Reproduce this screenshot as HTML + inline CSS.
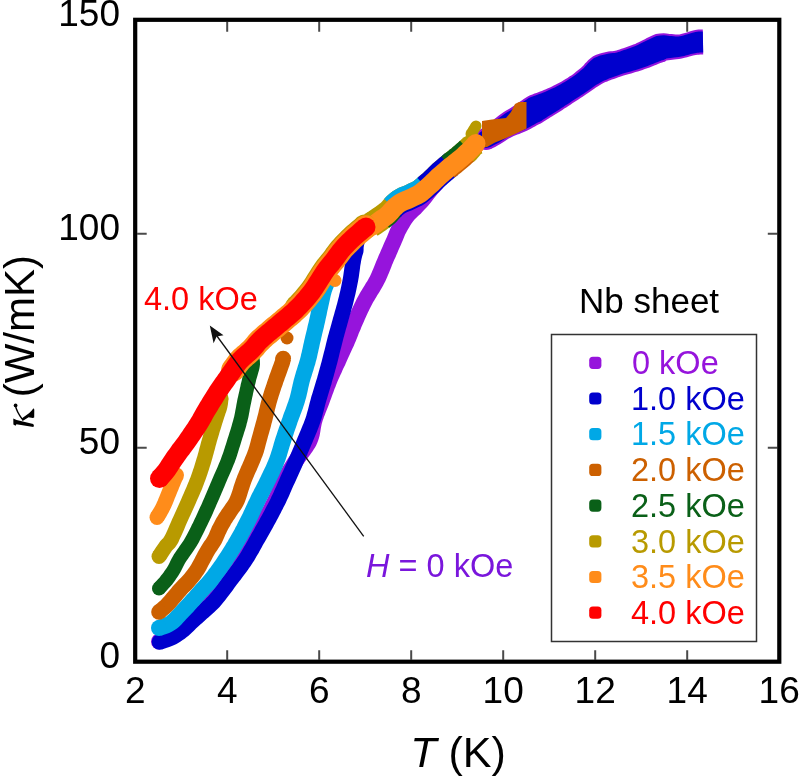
<!DOCTYPE html>
<html><head><meta charset="utf-8"><style>
html,body{margin:0;padding:0;background:#fff;}
svg{display:block;filter:blur(0.45px);}
text{font-family:"Liberation Sans",sans-serif;}
</style></head><body>
<svg width="800" height="777" viewBox="0 0 800 777">
<rect width="800" height="777" fill="#fff"/>
<path d="M162.3,648.8 L163.5,648.2 L165.3,647.4 L167.5,646.4 L169.9,645.3 L172.3,644.0 L174.2,643.0 L176.1,641.9 L178.1,640.7 L180.1,639.4 L182.3,637.9 L184.4,636.3 L186.2,634.9 L187.8,633.4 L189.4,631.9 L190.9,630.4 L192.4,628.9 L193.9,627.5 L195.3,626.2 L196.7,624.9 L198.2,623.5 L199.8,622.1 L201.4,620.7 L203.0,619.2 L204.7,617.8 L206.3,616.4 L207.9,614.9 L209.3,613.6 L210.7,612.4 L212.1,611.2 L213.6,609.8 L215.2,608.2 L217.0,606.4 L218.9,604.2 L220.1,602.8 L221.3,601.2 L222.6,599.6 L223.9,598.0 L225.2,596.2 L226.6,594.4 L227.9,592.6 L229.3,590.8 L230.6,589.0 L232.0,587.2 L233.2,585.5 L234.5,583.8 L235.7,582.2 L237.0,580.5 L238.3,578.8 L239.5,577.2 L240.8,575.5 L242.1,573.8 L243.3,572.1 L244.6,570.4 L245.8,568.6 L247.1,566.9 L248.3,565.2 L249.4,563.4 L250.7,561.5 L251.9,559.5 L253.0,557.6 L254.1,555.8 L255.2,553.9 L256.3,552.0 L257.3,550.2 L258.3,548.3 L259.3,546.5 L260.3,544.7 L261.4,543.0 L262.4,541.1 L263.4,539.3 L264.5,537.5 L265.5,535.7 L266.5,533.8 L267.6,532.0 L268.6,530.2 L269.6,528.3 L270.6,526.5 L271.6,524.6 L272.6,522.8 L273.6,521.0 L274.6,519.1 L275.6,517.3 L276.6,515.5 L277.5,513.6 L278.5,511.8 L279.5,509.9 L280.4,508.1 L281.4,506.2 L282.3,504.4 L283.2,502.5 L284.2,500.3 L285.2,498.2 L286.1,496.1 L286.9,494.1 L287.8,492.1 L288.6,490.1 L289.5,488.2 L290.3,486.3 L291.2,484.5 L292.1,482.7 L293.0,481.1 L293.9,479.4 L294.8,477.8 L295.8,476.2 L296.8,474.5 L297.8,472.9 L298.8,471.2 L299.9,469.5 L301.0,467.8 L302.1,466.1 L303.2,464.3 L304.2,462.8 L305.2,461.3 L306.4,459.8 L307.6,458.1 L308.8,456.5 L310.1,454.8 L311.3,453.0 L312.6,451.2 L313.8,449.3 L315.0,447.4 L316.1,445.4 L317.1,443.2 L318.1,440.7 L318.9,438.2 L319.6,435.8 L320.0,433.5 L320.4,431.3 L320.7,429.3 L321.0,427.4 L321.4,425.6 L321.7,423.9 L322.2,422.3 L322.7,420.5 L323.4,418.7 L324.0,416.8 L324.8,414.9 L325.5,412.9 L326.3,410.9 L327.1,409.0 L327.9,406.9 L328.7,404.9 L329.5,402.8 L330.2,400.8 L331.0,398.7 L331.7,396.7 L332.4,394.7 L333.2,392.7 L333.9,390.8 L334.6,388.8 L335.4,386.9 L336.1,385.0 L336.9,383.1 L337.7,381.1 L338.6,379.1 L339.5,377.0 L340.5,374.8 L341.5,372.7 L342.4,370.6 L343.3,368.6 L344.2,366.7 L345.1,364.9 L345.8,363.3 L347.0,360.6 L347.9,358.6 L348.7,356.8 L349.5,355.1 L350.3,353.3 L351.1,351.5 L351.9,349.8 L352.7,348.0 L353.7,345.9 L354.9,343.1 L355.6,341.5 L356.3,339.7 L357.1,337.7 L357.9,335.7 L358.7,333.6 L359.6,331.5 L360.5,329.4 L361.3,327.3 L362.2,325.2 L363.1,323.2 L363.9,321.4 L364.7,319.6 L365.5,317.8 L366.3,316.1 L367.1,314.3 L367.9,312.5 L368.8,310.7 L369.6,309.0 L370.5,307.2 L371.4,305.5 L372.3,303.8 L373.2,302.1 L374.2,300.4 L375.2,298.7 L376.3,296.9 L377.4,295.1 L378.6,293.3 L379.7,291.4 L380.8,289.5 L382.0,287.6 L383.1,285.6 L384.1,283.6 L385.2,281.4 L386.2,279.3 L387.1,277.2 L388.0,275.1 L388.9,273.0 L389.7,271.0 L390.5,269.0 L391.3,267.0 L392.0,265.1 L392.9,263.1 L393.7,261.1 L394.6,259.1 L395.6,256.9 L396.5,254.8 L397.4,252.7 L398.3,250.6 L399.2,248.6 L400.1,246.6 L400.9,244.8 L401.6,243.1 L402.8,240.3 L403.7,238.0 L404.4,236.2 L405.1,234.6 L406.1,232.7 L407.0,231.1 L408.0,229.3 L409.1,227.4 L410.2,225.5 L411.3,223.8 L412.4,222.2 L413.3,220.9 L414.5,219.4 L415.8,218.2 L417.3,216.8 L418.9,215.3 L420.7,213.7 L422.2,212.1 L423.6,210.6 L425.0,209.1 L426.5,207.5 L428.1,205.7 L429.5,204.0 L430.8,202.4 L432.1,200.7 L433.4,199.0 L434.8,197.3 L436.2,195.6 L437.4,194.1 L438.8,192.5 L440.2,190.9 L441.6,189.2 L443.1,187.6 L444.5,185.9 L445.9,184.4 L447.4,182.8 L449.0,181.1 L450.6,179.4 L452.2,177.8 L453.6,176.3 L454.9,175.0 L455.8,174.0 L444.2,163.0 L443.3,163.9 L442.1,165.1 L440.7,166.7 L439.0,168.3 L437.3,170.1 L435.7,171.9 L434.1,173.6 L432.6,175.3 L431.1,177.0 L429.6,178.7 L428.1,180.4 L426.6,182.1 L425.2,183.8 L423.8,185.4 L422.3,187.3 L420.9,189.1 L419.5,190.8 L418.2,192.5 L417.0,193.9 L415.9,195.3 L414.6,196.8 L413.3,198.2 L412.0,199.6 L410.7,200.9 L409.3,202.3 L408.0,203.6 L406.5,205.0 L404.7,206.7 L402.7,208.7 L400.7,211.1 L399.3,213.0 L397.9,215.0 L396.6,217.1 L395.3,219.2 L394.1,221.3 L393.0,223.3 L391.9,225.3 L390.7,227.8 L389.7,230.0 L388.9,232.1 L388.0,234.2 L386.9,236.9 L386.2,238.4 L385.4,240.2 L384.6,242.1 L383.7,244.1 L382.8,246.2 L381.8,248.4 L380.9,250.5 L380.0,252.7 L379.0,254.8 L378.1,256.9 L377.3,258.9 L376.4,261.0 L375.6,263.0 L374.8,265.0 L374.0,267.0 L373.2,268.9 L372.4,270.8 L371.6,272.7 L370.8,274.6 L369.9,276.4 L369.0,278.0 L368.1,279.7 L367.1,281.4 L366.0,283.1 L364.9,284.9 L363.8,286.7 L362.7,288.5 L361.5,290.4 L360.4,292.3 L359.3,294.3 L358.2,296.2 L357.2,298.1 L356.2,300.0 L355.3,301.9 L354.4,303.8 L353.5,305.7 L352.6,307.5 L351.7,309.4 L350.9,311.2 L350.1,313.1 L349.3,314.9 L348.4,316.8 L347.5,318.9 L346.6,321.1 L345.7,323.3 L344.8,325.5 L343.9,327.6 L343.0,329.7 L342.2,331.7 L341.5,333.6 L340.8,335.3 L340.1,336.9 L339.0,339.4 L338.1,341.4 L337.4,343.1 L336.6,344.8 L335.7,346.7 L334.9,348.6 L334.1,350.2 L333.3,352.0 L332.4,354.1 L331.2,356.7 L330.5,358.3 L329.7,360.0 L328.8,361.9 L327.9,363.9 L326.9,366.0 L325.9,368.2 L324.9,370.4 L323.9,372.6 L323.0,374.8 L322.1,376.9 L321.3,379.0 L320.4,381.1 L319.7,383.2 L318.9,385.2 L318.1,387.3 L317.4,389.3 L316.7,391.3 L316.0,393.3 L315.2,395.2 L314.5,397.2 L313.8,399.1 L313.0,401.1 L312.2,403.0 L311.4,405.1 L310.6,407.1 L309.8,409.1 L309.0,411.2 L308.3,413.3 L307.5,415.5 L306.8,417.7 L306.2,420.1 L305.7,422.4 L305.3,424.6 L304.9,426.7 L304.6,428.7 L304.3,430.5 L304.0,432.2 L303.6,433.8 L303.1,435.3 L302.5,436.8 L301.9,438.0 L301.1,439.3 L300.3,440.7 L299.3,442.2 L298.2,443.8 L297.1,445.4 L295.9,447.0 L294.7,448.7 L293.4,450.4 L292.2,452.1 L290.9,453.9 L289.8,455.7 L288.6,457.5 L287.5,459.2 L286.4,460.9 L285.3,462.7 L284.2,464.4 L283.1,466.2 L282.1,467.9 L281.0,469.7 L280.0,471.6 L278.9,473.4 L277.9,475.3 L276.8,477.4 L275.8,479.6 L274.9,481.7 L273.9,483.8 L273.1,485.8 L272.2,487.8 L271.4,489.8 L270.5,491.8 L269.7,493.6 L268.8,495.5 L267.9,497.3 L267.1,499.0 L266.2,500.8 L265.2,502.6 L264.3,504.4 L263.4,506.2 L262.4,508.0 L261.5,509.8 L260.5,511.6 L259.5,513.4 L258.6,515.2 L257.6,517.0 L256.6,518.8 L255.6,520.6 L254.6,522.4 L253.6,524.2 L252.6,526.0 L251.6,527.8 L250.6,529.6 L249.5,531.4 L248.5,533.2 L247.4,535.0 L246.4,536.9 L245.4,538.7 L244.3,540.6 L243.3,542.4 L242.3,544.2 L241.3,545.9 L240.3,547.7 L239.3,549.4 L238.2,551.2 L237.2,552.9 L236.1,554.6 L235.0,556.2 L233.9,557.8 L232.8,559.4 L231.6,561.0 L230.5,562.6 L229.2,564.2 L228.0,565.9 L226.8,567.5 L225.5,569.2 L224.2,570.8 L223.0,572.5 L221.7,574.2 L220.4,575.9 L219.1,577.7 L217.8,579.5 L216.4,581.3 L215.1,583.0 L213.8,584.8 L212.5,586.5 L211.2,588.2 L210.0,589.8 L208.8,591.2 L207.7,592.6 L206.7,593.8 L205.2,595.6 L203.8,597.0 L202.6,598.2 L201.4,599.3 L200.1,600.4 L198.6,601.7 L197.1,603.1 L195.6,604.5 L194.1,605.8 L192.5,607.2 L190.9,608.6 L189.2,610.1 L187.6,611.6 L185.8,613.1 L184.3,614.6 L182.8,616.0 L181.2,617.5 L179.8,619.0 L178.4,620.3 L177.0,621.6 L175.7,622.7 L174.6,623.7 L172.9,624.9 L171.3,626.1 L169.7,627.1 L168.0,628.1 L166.3,629.1 L164.7,630.0 L162.8,631.0 L160.8,631.9 L158.8,632.8 L157.0,633.6 L155.7,634.2Z" fill="#9614dc"/>
<circle cx="159.0" cy="641.5" r="8.0" fill="#9614dc"/>
<circle cx="450.0" cy="168.5" r="8.0" fill="#9614dc"/>
<path d="M491.3,148.7 L492.8,148.0 L495.1,146.9 L497.6,145.6 L500.3,144.1 L503.1,142.3 L505.4,140.8 L507.2,139.6 L508.8,138.6 L510.4,137.8 L511.8,137.0 L513.7,136.0 L516.2,134.9 L517.4,134.5 L519.2,133.9 L521.4,133.1 L523.9,132.0 L526.8,130.8 L528.8,129.7 L530.8,128.7 L532.9,127.6 L534.9,126.4 L536.9,125.3 L538.9,124.3 L540.7,123.4 L542.3,122.6 L543.8,121.5 L545.4,120.5 L547.0,119.5 L548.7,118.4 L550.5,117.3 L552.3,116.2 L554.2,115.0 L556.3,113.7 L558.3,112.4 L560.4,111.2 L562.4,109.9 L564.3,108.6 L566.2,107.4 L568.4,106.0 L570.4,104.7 L572.4,103.3 L574.4,102.0 L576.4,100.7 L578.4,99.4 L580.5,98.1 L582.6,96.7 L584.7,95.3 L586.9,93.8 L588.8,92.6 L590.6,91.3 L592.4,90.1 L594.2,88.8 L595.9,87.6 L597.6,86.4 L599.6,85.3 L601.6,84.1 L603.4,83.1 L604.9,82.3 L606.1,81.8 L606.9,81.7 L607.7,81.2 L608.7,80.8 L610.1,80.2 L611.9,79.6 L613.8,79.0 L615.2,78.4 L616.5,77.9 L618.3,77.3 L620.7,76.5 L623.6,75.5 L625.4,75.0 L627.2,74.5 L629.1,74.0 L631.2,73.4 L633.4,72.8 L635.6,72.1 L637.9,71.4 L640.2,70.7 L642.5,69.9 L644.8,69.1 L647.2,68.3 L649.6,67.4 L651.9,66.5 L654.2,65.5 L656.4,64.7 L658.5,63.8 L660.4,63.1 L662.1,62.5 L663.4,62.0 L664.1,61.9 L665.5,61.2 L665.8,60.9 L666.4,60.6 L668.2,60.3 L670.5,60.0 L672.4,59.7 L674.3,59.5 L676.4,59.2 L679.0,58.9 L681.8,58.4 L684.6,57.8 L687.1,57.2 L689.4,56.6 L691.4,56.1 L693.1,55.6 L695.7,55.1 L697.6,54.7 L698.8,54.7 L700.1,54.6 L701.8,54.5 L703.2,54.5 L702.8,29.5 L701.2,29.5 L698.5,29.6 L695.2,29.9 L692.1,30.7 L689.5,31.6 L686.9,32.4 L685.0,32.9 L683.0,33.5 L681.1,34.0 L679.5,34.4 L678.2,34.6 L677.0,34.6 L675.6,34.4 L673.7,34.3 L671.6,34.1 L669.5,34.0 L668.1,33.7 L666.5,33.4 L663.6,33.2 L659.8,33.4 L655.9,34.1 L653.4,35.1 L651.2,36.0 L649.1,37.0 L646.9,38.1 L644.8,39.2 L642.7,40.2 L640.7,41.3 L638.7,42.2 L636.9,43.1 L635.2,43.9 L633.4,44.6 L631.5,45.3 L629.5,46.1 L627.4,46.8 L625.4,47.5 L623.3,48.2 L621.4,48.8 L619.6,49.5 L617.8,50.0 L616.4,50.5 L614.0,51.0 L612.3,51.2 L610.6,51.3 L608.5,51.6 L606.2,52.0 L604.1,52.5 L601.9,53.0 L599.3,53.8 L596.3,54.8 L593.1,56.3 L590.5,58.2 L588.4,60.1 L586.6,61.9 L585.0,63.6 L583.7,65.2 L582.4,66.6 L580.8,67.9 L579.2,69.2 L577.6,70.6 L576.0,71.8 L574.6,73.0 L573.1,74.2 L571.3,75.4 L569.4,76.6 L567.5,77.9 L565.6,79.1 L563.6,80.3 L561.7,81.4 L559.8,82.5 L557.8,83.5 L555.9,84.6 L553.8,85.6 L552.0,86.5 L550.0,87.4 L548.0,88.3 L545.9,89.2 L543.9,90.1 L541.8,91.0 L540.1,91.6 L538.3,92.2 L536.5,92.9 L534.5,93.6 L532.4,94.4 L530.1,95.3 L527.7,96.4 L525.7,97.7 L523.7,99.0 L521.7,100.4 L519.7,101.8 L517.8,103.1 L516.1,104.3 L514.5,105.4 L513.2,106.2 L511.3,107.5 L509.4,108.7 L507.6,109.7 L505.8,110.8 L503.8,112.1 L500.6,114.2 L498.2,116.0 L496.4,117.4 L494.7,118.8 L492.8,120.4 L490.9,122.1 L489.2,123.6 L487.7,124.9 L486.3,125.9 L484.2,127.2 L482.2,128.4 L480.7,129.3Z" fill="#9614dc"/>
<circle cx="486.0" cy="139.0" r="11.0" fill="#9614dc"/>
<path d="M161.9,649.4 L163.0,649.0 L164.8,648.5 L166.9,647.8 L169.3,647.0 L171.9,646.1 L174.3,645.0 L176.5,643.9 L178.6,642.7 L180.6,641.5 L182.7,640.1 L184.7,638.7 L186.8,637.1 L188.5,635.7 L190.1,634.2 L191.7,632.7 L193.3,631.2 L194.8,629.8 L196.2,628.3 L197.6,627.0 L199.0,625.7 L200.6,624.3 L202.2,622.9 L203.8,621.5 L205.4,620.1 L207.0,618.6 L208.6,617.2 L210.2,615.7 L211.6,614.4 L213.0,613.2 L214.4,612.0 L215.9,610.6 L217.5,609.0 L219.3,607.2 L221.2,605.1 L222.4,603.6 L223.6,602.1 L224.9,600.5 L226.2,598.8 L227.5,597.1 L228.9,595.3 L230.2,593.5 L231.6,591.7 L232.9,589.9 L234.2,588.1 L235.5,586.3 L236.8,584.6 L238.0,583.0 L239.3,581.3 L240.6,579.7 L241.8,578.0 L243.1,576.3 L244.4,574.6 L245.6,572.9 L246.9,571.2 L248.1,569.5 L249.3,567.8 L250.6,566.0 L251.7,564.3 L253.0,562.3 L254.2,560.4 L255.3,558.5 L256.4,556.6 L257.5,554.8 L258.6,552.9 L259.6,551.1 L260.6,549.2 L261.6,547.4 L262.6,545.6 L263.6,543.8 L264.7,542.0 L265.7,540.2 L266.7,538.4 L267.8,536.5 L268.8,534.7 L269.8,532.9 L270.9,531.0 L271.9,529.2 L272.9,527.4 L273.9,525.5 L274.9,523.7 L275.9,521.9 L276.9,520.0 L277.9,518.2 L278.8,516.4 L279.8,514.5 L280.8,512.7 L281.7,510.8 L282.7,509.0 L283.6,507.1 L284.6,505.2 L285.5,503.4 L286.5,501.3 L287.4,499.2 L288.4,497.2 L289.3,495.2 L290.2,493.1 L291.1,491.1 L291.9,489.1 L292.8,487.1 L293.7,485.1 L294.6,483.2 L295.5,481.2 L296.4,479.2 L297.3,477.2 L298.2,475.2 L299.1,473.2 L300.0,471.2 L300.9,469.2 L301.8,467.2 L302.7,465.1 L303.6,463.1 L304.5,461.1 L305.4,459.1 L306.2,457.1 L307.1,455.0 L307.9,453.0 L308.8,451.0 L309.6,449.0 L310.5,447.0 L311.3,445.0 L312.2,443.0 L313.0,441.0 L313.8,439.0 L314.7,437.0 L315.5,435.0 L316.4,433.0 L317.2,430.9 L318.0,428.8 L318.8,426.7 L319.6,424.6 L320.3,422.5 L321.0,420.3 L321.7,418.2 L322.3,416.1 L322.8,414.0 L323.4,411.9 L323.9,409.9 L324.4,407.9 L324.9,406.0 L325.4,404.0 L326.0,402.1 L326.5,400.2 L327.1,398.2 L327.7,396.2 L328.3,394.3 L328.9,392.3 L329.5,390.3 L330.1,388.2 L330.7,386.2 L331.4,384.2 L331.9,382.1 L332.5,380.1 L333.1,378.1 L333.7,376.1 L334.2,374.1 L334.8,372.1 L335.3,370.0 L335.9,368.0 L336.4,366.0 L337.0,364.0 L337.5,362.0 L338.0,359.9 L338.5,357.9 L339.0,355.9 L339.5,353.8 L340.0,351.8 L340.5,349.8 L341.0,347.9 L341.5,345.9 L342.0,343.9 L342.5,342.0 L343.0,340.0 L343.5,338.0 L344.1,336.0 L344.6,334.1 L345.2,332.1 L345.7,330.1 L346.3,328.1 L346.9,326.1 L347.4,324.1 L348.0,322.1 L348.5,320.1 L349.1,318.1 L349.6,316.1 L350.2,314.1 L350.8,312.1 L351.3,310.1 L351.9,308.0 L352.5,306.0 L353.0,303.9 L353.5,301.9 L354.0,299.8 L354.5,297.8 L355.0,295.8 L355.5,293.7 L355.9,291.7 L356.4,289.6 L356.8,287.6 L357.2,285.5 L357.6,283.5 L358.0,281.4 L358.4,279.2 L358.8,277.0 L359.1,274.8 L359.4,272.6 L359.7,270.4 L360.0,268.3 L360.2,266.3 L360.5,264.5 L360.8,262.9 L361.0,261.5 L361.5,259.0 L362.0,257.1 L362.4,255.4 L362.9,253.9 L363.4,252.3 L363.6,249.9 L363.6,247.9 L363.9,245.8 L364.5,243.4 L365.2,241.0 L365.9,238.9 L366.9,236.9 L368.0,235.0 L368.7,233.5 L361.3,228.5 L360.2,229.8 L358.7,231.8 L357.1,234.1 L355.6,236.4 L354.1,238.9 L352.7,241.2 L351.3,243.2 L350.0,245.3 L348.6,247.7 L348.1,249.3 L347.6,251.1 L347.0,253.2 L346.4,255.6 L345.8,258.5 L345.5,260.3 L345.2,262.2 L344.9,264.2 L344.6,266.2 L344.3,268.3 L344.0,270.5 L343.7,272.6 L343.4,274.7 L343.1,276.7 L342.8,278.6 L342.4,280.5 L342.0,282.5 L341.6,284.4 L341.2,286.4 L340.8,288.3 L340.4,290.3 L339.9,292.2 L339.4,294.2 L339.0,296.2 L338.5,298.1 L338.0,300.1 L337.5,302.0 L337.0,304.0 L336.4,305.9 L335.9,307.9 L335.3,309.9 L334.7,311.9 L334.2,313.9 L333.6,315.9 L333.0,317.9 L332.5,319.9 L331.9,321.9 L331.4,323.9 L330.8,325.9 L330.3,327.9 L329.7,329.9 L329.1,332.0 L328.6,334.0 L328.0,336.0 L327.5,338.0 L327.0,340.1 L326.5,342.1 L326.0,344.1 L325.5,346.2 L325.0,348.2 L324.5,350.2 L324.0,352.1 L323.5,354.1 L323.0,356.1 L322.5,358.0 L322.0,360.0 L321.5,362.0 L320.9,364.0 L320.4,366.0 L319.8,367.9 L319.3,369.9 L318.7,371.9 L318.2,373.9 L317.6,375.9 L317.1,377.9 L316.5,379.8 L315.9,381.8 L315.3,383.8 L314.7,385.7 L314.1,387.7 L313.5,389.7 L312.9,391.8 L312.3,393.8 L311.6,395.8 L311.0,397.9 L310.5,400.0 L309.9,402.0 L309.4,404.1 L308.9,406.1 L308.4,408.1 L307.9,410.0 L307.3,411.9 L306.8,413.8 L306.3,415.7 L305.7,417.5 L305.0,419.4 L304.3,421.3 L303.6,423.2 L302.8,425.1 L302.0,427.0 L301.2,429.0 L300.4,431.0 L299.5,433.0 L298.7,435.0 L297.8,437.0 L297.0,439.0 L296.2,441.0 L295.4,443.0 L294.5,445.0 L293.7,447.0 L292.8,449.0 L292.0,450.9 L291.1,452.9 L290.3,454.9 L289.4,456.9 L288.5,458.9 L287.7,460.8 L286.8,462.8 L285.9,464.8 L285.0,466.8 L284.1,468.8 L283.2,470.8 L282.2,472.8 L281.3,474.8 L280.4,476.8 L279.5,478.9 L278.6,480.9 L277.7,482.9 L276.9,484.9 L276.0,486.9 L275.1,488.8 L274.2,490.8 L273.4,492.8 L272.4,494.7 L271.5,496.6 L270.7,498.4 L269.8,500.2 L268.9,501.9 L268.0,503.7 L267.0,505.5 L266.1,507.3 L265.2,509.1 L264.2,510.9 L263.2,512.7 L262.3,514.5 L261.3,516.3 L260.3,518.1 L259.3,519.9 L258.3,521.7 L257.3,523.5 L256.3,525.3 L255.3,527.1 L254.3,528.9 L253.3,530.7 L252.2,532.5 L251.2,534.3 L250.2,536.2 L249.1,538.0 L248.1,539.9 L247.1,541.7 L246.1,543.5 L245.1,545.3 L244.0,547.1 L243.0,548.8 L242.0,550.6 L241.0,552.3 L239.9,554.0 L238.8,555.7 L237.7,557.3 L236.6,558.9 L235.5,560.5 L234.3,562.1 L233.2,563.7 L231.9,565.4 L230.7,567.0 L229.5,568.7 L228.2,570.3 L226.9,572.0 L225.7,573.7 L224.4,575.4 L223.1,577.1 L221.8,578.8 L220.5,580.6 L219.1,582.4 L217.8,584.2 L216.5,586.0 L215.2,587.7 L213.9,589.3 L212.7,590.9 L211.5,592.4 L210.4,593.8 L209.4,594.9 L207.9,596.7 L206.5,598.1 L205.3,599.4 L204.0,600.5 L202.7,601.6 L201.3,602.9 L199.8,604.3 L198.3,605.7 L196.7,607.0 L195.2,608.4 L193.6,609.8 L191.9,611.3 L190.2,612.7 L188.5,614.3 L187.0,615.7 L185.4,617.2 L183.9,618.7 L182.5,620.1 L181.0,621.5 L179.7,622.8 L178.4,623.9 L177.2,624.9 L175.5,626.2 L173.9,627.4 L172.3,628.4 L170.8,629.3 L169.2,630.2 L167.7,631.0 L166.1,631.7 L164.2,632.4 L162.2,633.1 L160.2,633.7 L158.5,634.2 L157.1,634.6Z" fill="#0000cd"/>
<circle cx="159.5" cy="642.0" r="7.8" fill="#0000cd"/>
<circle cx="365.0" cy="231.0" r="4.5" fill="#0000cd"/>
<path d="M490.3,146.9 L491.8,146.2 L494.1,145.1 L496.6,143.8 L499.2,142.5 L501.9,140.7 L504.2,139.2 L506.0,138.0 L507.6,137.0 L509.2,136.1 L510.8,135.3 L512.7,134.3 L515.3,133.2 L516.5,132.8 L518.3,132.1 L520.5,131.3 L523.0,130.3 L525.8,129.0 L527.8,128.0 L529.8,126.9 L531.8,125.8 L533.9,124.7 L535.9,123.6 L537.8,122.6 L539.7,121.7 L541.3,120.9 L542.9,119.8 L544.5,118.7 L546.2,117.7 L547.9,116.6 L549.6,115.5 L551.4,114.4 L553.3,113.2 L555.4,111.9 L557.4,110.7 L559.4,109.4 L561.4,108.1 L563.3,106.9 L565.2,105.6 L567.4,104.3 L569.4,102.9 L571.4,101.6 L573.3,100.3 L575.3,99.0 L577.3,97.7 L579.4,96.4 L581.5,95.1 L583.6,93.7 L585.7,92.2 L587.6,91.0 L589.4,89.7 L591.2,88.5 L592.9,87.2 L594.6,86.1 L596.4,84.8 L598.4,83.7 L600.4,82.5 L602.2,81.5 L603.7,80.7 L605.0,80.2 L606.0,80.0 L606.9,79.4 L608.0,78.9 L609.5,78.3 L611.3,77.7 L613.2,77.1 L614.7,76.4 L616.0,75.9 L617.8,75.4 L620.2,74.6 L623.0,73.6 L624.8,73.1 L626.6,72.6 L628.5,72.1 L630.6,71.5 L632.8,70.8 L635.0,70.2 L637.3,69.5 L639.6,68.8 L641.8,68.0 L644.1,67.3 L646.4,66.4 L648.8,65.6 L651.1,64.6 L653.4,63.7 L655.6,62.8 L657.7,62.0 L659.6,61.3 L661.3,60.6 L662.7,60.2 L663.5,60.0 L665.1,59.3 L665.7,58.9 L666.4,58.6 L668.2,58.3 L670.4,58.0 L672.4,57.7 L674.2,57.5 L676.4,57.2 L678.8,56.9 L681.5,56.4 L684.2,55.9 L686.6,55.3 L688.9,54.7 L690.8,54.1 L692.5,53.7 L695.2,53.2 L697.2,52.8 L698.5,52.7 L699.9,52.6 L701.7,52.5 L703.2,52.5 L702.8,31.5 L701.2,31.5 L698.7,31.6 L695.5,31.9 L692.5,32.7 L690.0,33.5 L687.5,34.3 L685.5,34.8 L683.5,35.4 L681.6,35.9 L679.9,36.3 L678.5,36.6 L677.2,36.6 L675.6,36.4 L673.8,36.3 L671.6,36.1 L669.6,36.0 L668.1,35.7 L666.5,35.4 L663.8,35.2 L660.2,35.4 L656.5,36.0 L654.1,36.9 L652.0,37.9 L649.9,38.9 L647.8,39.9 L645.7,41.0 L643.6,42.0 L641.5,43.1 L639.5,44.1 L637.7,45.0 L635.9,45.7 L634.1,46.5 L632.1,47.2 L630.1,48.0 L628.0,48.7 L626.0,49.4 L623.9,50.1 L622.0,50.7 L620.1,51.4 L618.4,51.9 L617.0,52.4 L614.5,52.9 L612.7,53.1 L611.0,53.3 L609.0,53.6 L606.8,53.9 L604.7,54.4 L602.5,54.9 L600.0,55.6 L597.1,56.7 L594.0,58.0 L591.6,59.9 L589.6,61.7 L587.8,63.5 L586.3,65.2 L584.9,66.7 L583.6,68.2 L582.0,69.5 L580.4,70.8 L578.8,72.2 L577.2,73.4 L575.7,74.7 L574.3,75.8 L572.4,77.1 L570.5,78.3 L568.6,79.6 L566.7,80.8 L564.7,82.0 L562.7,83.1 L560.8,84.2 L558.9,85.2 L556.9,86.3 L554.8,87.4 L552.9,88.2 L551.0,89.1 L549.0,90.0 L546.9,91.0 L544.8,91.9 L542.7,92.8 L541.0,93.4 L539.2,94.0 L537.3,94.7 L535.4,95.4 L533.3,96.2 L531.0,97.1 L528.7,98.1 L526.7,99.4 L524.7,100.7 L522.7,102.1 L520.7,103.5 L518.9,104.8 L517.1,106.0 L515.5,107.1 L514.2,108.0 L512.2,109.3 L510.3,110.5 L508.5,111.5 L506.7,112.6 L504.7,113.8 L501.7,115.9 L499.2,117.7 L497.5,119.1 L495.8,120.5 L494.0,122.0 L492.1,123.7 L490.4,125.2 L488.8,126.5 L487.3,127.6 L485.2,128.9 L483.1,130.2 L481.7,131.1Z" fill="#0000cd"/>
<circle cx="486.0" cy="139.0" r="9.0" fill="#0000cd"/>
<path d="M161.7,635.5 L162.9,635.1 L164.7,634.5 L167.0,633.7 L169.7,632.7 L172.6,631.3 L175.4,629.6 L177.6,627.9 L179.6,626.2 L181.4,624.4 L183.1,622.6 L184.8,620.8 L186.3,619.1 L187.8,617.5 L189.2,616.0 L190.7,614.5 L192.1,612.9 L193.6,611.4 L195.0,609.8 L196.4,608.3 L197.7,606.8 L199.0,605.4 L200.7,603.6 L202.2,601.8 L203.7,600.2 L205.1,598.6 L206.5,597.0 L207.9,595.4 L209.3,593.9 L210.5,592.6 L212.0,591.1 L213.6,589.4 L215.3,587.4 L217.3,585.0 L218.4,583.5 L219.5,582.1 L220.7,580.5 L221.9,578.8 L223.2,577.1 L224.5,575.3 L225.8,573.5 L227.1,571.7 L228.4,569.8 L229.6,568.0 L230.9,566.2 L232.1,564.4 L233.3,562.6 L234.5,560.7 L235.7,558.8 L236.9,557.0 L238.0,555.1 L239.2,553.3 L240.3,551.4 L241.4,549.5 L242.5,547.7 L243.6,545.8 L244.7,544.0 L245.8,542.1 L246.8,540.3 L247.8,538.4 L248.8,536.5 L249.8,534.7 L250.8,532.8 L251.8,531.0 L252.7,529.1 L253.7,527.3 L254.6,525.4 L255.6,523.6 L256.5,521.7 L257.4,519.8 L258.3,518.0 L259.1,516.1 L260.0,514.3 L260.8,512.4 L261.7,510.6 L262.5,508.8 L263.3,507.0 L264.2,505.3 L265.0,503.5 L265.9,501.8 L266.8,500.0 L267.7,498.2 L268.6,496.4 L269.6,494.6 L270.5,492.8 L271.5,490.9 L272.4,489.1 L273.4,487.2 L274.3,485.3 L275.2,483.5 L276.2,481.5 L277.1,479.5 L278.1,477.4 L279.1,475.4 L280.0,473.3 L281.0,471.3 L281.9,469.2 L282.8,467.1 L283.6,465.0 L284.5,462.8 L285.3,460.7 L286.0,458.5 L286.7,456.4 L287.3,454.3 L287.9,452.2 L288.5,450.2 L289.1,448.2 L289.7,446.3 L290.3,444.4 L290.9,442.4 L291.5,440.5 L292.2,438.5 L292.8,436.5 L293.5,434.5 L294.1,432.6 L294.8,430.6 L295.5,428.6 L296.2,426.6 L296.9,424.6 L297.5,422.6 L298.2,420.7 L298.9,418.8 L299.7,416.8 L300.4,414.8 L301.2,412.8 L301.9,410.8 L302.7,408.7 L303.4,406.6 L304.1,404.5 L304.8,402.3 L305.4,400.1 L306.0,398.0 L306.5,395.9 L307.0,393.8 L307.5,391.7 L307.9,389.7 L308.3,387.8 L308.8,385.8 L309.2,384.0 L309.7,382.1 L310.2,380.2 L310.8,378.3 L311.4,376.4 L312.0,374.4 L312.6,372.4 L313.3,370.4 L313.9,368.3 L314.5,366.3 L315.2,364.2 L315.7,362.1 L316.3,360.0 L316.8,357.9 L317.3,355.8 L317.7,353.8 L318.2,351.7 L318.6,349.7 L319.1,347.7 L319.5,345.7 L319.9,343.8 L320.4,341.8 L320.9,339.8 L321.3,337.8 L321.8,335.7 L322.3,333.6 L322.8,331.5 L323.3,329.5 L323.8,327.5 L324.2,325.5 L324.7,323.6 L325.1,321.8 L325.6,319.3 L326.1,317.0 L326.6,314.9 L327.0,312.8 L327.4,310.8 L327.9,308.8 L328.3,306.7 L328.8,304.5 L329.3,302.3 L329.8,300.0 L330.2,297.9 L330.7,295.8 L331.2,293.9 L331.6,292.4 L332.4,290.2 L333.2,288.2 L334.0,286.2 L334.8,284.5 L335.3,283.2 L320.7,276.8 L320.1,278.1 L319.3,279.8 L318.4,282.1 L317.3,284.8 L316.4,287.6 L315.7,289.8 L315.2,292.0 L314.7,294.3 L314.1,296.6 L313.6,298.9 L313.2,301.1 L312.7,303.3 L312.2,305.4 L311.8,307.5 L311.4,309.5 L310.9,311.6 L310.5,313.7 L310.0,315.9 L309.5,318.2 L309.1,320.0 L308.7,321.9 L308.2,323.8 L307.7,325.8 L307.3,327.8 L306.8,329.9 L306.3,332.0 L305.8,334.1 L305.3,336.1 L304.8,338.2 L304.3,340.2 L303.9,342.3 L303.4,344.3 L303.0,346.3 L302.6,348.3 L302.1,350.2 L301.7,352.2 L301.2,354.1 L300.8,356.0 L300.3,357.9 L299.8,359.8 L299.2,361.7 L298.6,363.7 L298.0,365.6 L297.4,367.6 L296.8,369.6 L296.1,371.6 L295.5,373.7 L294.9,375.8 L294.3,377.9 L293.7,380.0 L293.2,382.2 L292.7,384.2 L292.3,386.3 L291.8,388.3 L291.4,390.2 L291.0,392.1 L290.5,394.0 L290.0,395.9 L289.5,397.7 L288.9,399.5 L288.3,401.4 L287.6,403.3 L286.9,405.2 L286.2,407.2 L285.5,409.2 L284.7,411.2 L283.9,413.2 L283.2,415.3 L282.5,417.4 L281.7,419.4 L281.1,421.4 L280.4,423.4 L279.7,425.4 L279.0,427.4 L278.3,429.5 L277.6,431.5 L277.0,433.5 L276.3,435.5 L275.6,437.6 L275.0,439.6 L274.3,441.7 L273.7,443.8 L273.2,445.8 L272.6,447.8 L272.0,449.7 L271.4,451.6 L270.8,453.5 L270.2,455.3 L269.5,457.2 L268.8,459.0 L268.0,460.9 L267.2,462.8 L266.4,464.7 L265.5,466.7 L264.6,468.6 L263.6,470.6 L262.7,472.5 L261.7,474.5 L260.8,476.5 L259.9,478.3 L259.1,480.1 L258.2,481.8 L257.3,483.6 L256.3,485.4 L255.4,487.2 L254.4,489.0 L253.5,490.9 L252.5,492.7 L251.6,494.6 L250.7,496.5 L249.8,498.4 L248.9,500.2 L248.0,502.1 L247.2,503.9 L246.3,505.7 L245.5,507.6 L244.6,509.4 L243.8,511.1 L243.0,512.9 L242.1,514.7 L241.2,516.4 L240.3,518.2 L239.4,520.0 L238.5,521.8 L237.6,523.6 L236.7,525.4 L235.7,527.1 L234.8,528.9 L233.8,530.7 L232.8,532.5 L231.8,534.2 L230.8,536.0 L229.8,537.8 L228.7,539.6 L227.7,541.4 L226.6,543.1 L225.5,544.9 L224.4,546.7 L223.3,548.5 L222.2,550.2 L221.1,552.0 L219.9,553.8 L218.7,555.6 L217.6,557.2 L216.5,558.9 L215.3,560.7 L214.0,562.4 L212.8,564.2 L211.5,565.9 L210.3,567.7 L209.0,569.3 L207.9,570.9 L206.7,572.4 L205.7,573.8 L204.7,575.0 L203.0,577.1 L201.6,578.7 L200.3,580.1 L199.0,581.5 L197.6,583.0 L196.1,584.6 L194.6,586.3 L193.1,588.0 L191.7,589.6 L190.2,591.2 L188.8,592.9 L187.2,594.6 L185.9,596.0 L184.6,597.5 L183.2,599.0 L181.8,600.5 L180.4,602.0 L179.0,603.6 L177.6,605.0 L176.2,606.5 L174.6,608.2 L173.0,610.0 L171.4,611.6 L170.0,613.2 L168.7,614.5 L167.4,615.6 L166.4,616.4 L165.1,617.2 L163.4,617.9 L161.5,618.7 L159.5,619.3 L157.7,620.0 L156.3,620.5Z" fill="#00a8e6"/>
<circle cx="159.0" cy="628.0" r="8.0" fill="#00a8e6"/>
<circle cx="328.0" cy="280.0" r="8.0" fill="#00a8e6"/>
<path d="M164.0,618.0 L165.2,616.9 L167.1,615.3 L169.3,613.5 L171.3,611.6 L173.0,610.0 L174.4,608.4 L175.8,606.9 L177.4,605.1 L178.6,603.6 L180.0,601.9 L181.5,600.2 L182.9,598.5 L184.4,596.8 L185.8,595.2 L187.2,593.6 L188.7,592.0 L190.3,590.4 L192.0,588.7 L193.6,586.9 L195.2,585.1 L196.7,583.3 L198.2,581.5 L199.6,579.7 L200.9,577.9 L202.2,576.1 L203.5,574.2 L204.9,571.9 L206.2,569.7 L207.3,567.6 L208.3,565.6 L209.3,563.7 L210.4,561.7 L211.5,559.7 L212.5,557.7 L213.6,555.8 L214.6,554.0 L215.7,552.3 L217.0,550.4 L218.4,548.3 L219.9,546.1 L221.3,543.7 L222.5,541.3 L223.5,539.1 L224.4,537.0 L225.2,535.1 L226.0,533.4 L226.9,531.5 L227.9,529.6 L228.9,527.7 L230.0,525.9 L231.0,524.0 L232.2,522.2 L233.4,520.3 L234.7,518.4 L236.1,516.3 L237.4,514.3 L238.6,512.6 L239.8,511.0 L241.2,508.9 L242.8,506.3 L244.3,503.2 L245.1,501.2 L245.8,499.2 L246.5,497.2 L247.2,495.1 L247.8,493.0 L248.5,490.8 L249.2,488.7 L249.9,486.6 L250.6,484.6 L251.2,482.8 L252.0,480.8 L252.8,478.8 L253.7,476.7 L254.6,474.6 L255.5,472.5 L256.5,470.4 L257.3,468.4 L258.2,466.4 L259.0,464.6 L259.7,463.0 L260.8,460.3 L261.6,458.1 L262.4,456.2 L263.0,454.4 L263.7,452.4 L264.3,450.3 L264.8,448.5 L265.3,446.6 L265.8,444.6 L266.5,442.0 L266.9,440.5 L267.4,438.7 L267.9,436.8 L268.5,434.8 L269.1,432.7 L269.7,430.5 L270.3,428.4 L270.9,426.2 L271.4,424.0 L272.0,422.0 L272.5,419.9 L273.0,417.8 L273.5,415.8 L274.0,413.8 L274.5,411.8 L274.9,409.8 L275.4,407.9 L275.9,405.9 L276.4,404.0 L277.0,402.1 L277.5,400.2 L278.1,398.3 L278.7,396.3 L279.4,394.3 L280.0,392.3 L280.7,390.3 L281.3,388.3 L282.0,386.4 L282.7,384.4 L283.3,382.5 L284.1,380.4 L284.8,378.2 L285.7,376.0 L286.5,373.7 L287.3,371.6 L288.0,369.5 L288.7,367.6 L289.3,365.9 L290.0,363.8 L290.8,360.0 L275.6,357.0 L275.0,360.2 L274.7,360.8 L274.2,362.3 L273.5,364.2 L272.7,366.2 L271.9,368.4 L271.1,370.7 L270.3,373.0 L269.4,375.3 L268.7,377.5 L268.0,379.4 L267.3,381.4 L266.7,383.4 L266.0,385.4 L265.3,387.4 L264.6,389.5 L264.0,391.6 L263.3,393.7 L262.7,395.8 L262.0,397.9 L261.5,400.0 L260.9,402.1 L260.4,404.1 L259.9,406.2 L259.4,408.2 L258.9,410.2 L258.5,412.2 L258.0,414.2 L257.5,416.1 L257.0,418.0 L256.5,420.0 L255.9,422.1 L255.3,424.3 L254.7,426.4 L254.1,428.5 L253.6,430.6 L253.0,432.7 L252.5,434.6 L252.0,436.3 L251.5,438.0 L250.8,440.7 L250.3,442.8 L249.8,444.5 L249.4,446.0 L248.9,447.6 L248.4,449.3 L247.8,450.8 L247.2,452.4 L246.4,454.5 L245.3,457.0 L244.7,458.6 L244.0,460.3 L243.1,462.2 L242.3,464.2 L241.3,466.3 L240.4,468.4 L239.4,470.7 L238.5,472.9 L237.6,475.1 L236.8,477.2 L235.9,479.4 L235.2,481.7 L234.4,483.9 L233.7,486.1 L233.1,488.3 L232.4,490.4 L231.8,492.3 L231.2,494.1 L230.6,495.6 L230.1,496.8 L229.1,499.0 L228.2,500.6 L227.2,502.0 L225.9,503.7 L224.6,505.7 L223.2,507.7 L221.9,509.6 L220.5,511.7 L219.1,513.8 L217.8,516.0 L216.5,518.1 L215.3,520.3 L214.2,522.4 L213.1,524.5 L212.0,526.6 L211.0,528.9 L210.1,531.0 L209.3,532.9 L208.5,534.7 L207.7,536.3 L206.7,537.9 L205.6,539.7 L204.2,541.6 L202.8,543.7 L201.4,546.0 L200.1,548.2 L198.9,550.3 L197.8,552.3 L196.8,554.3 L195.7,556.3 L194.6,558.4 L193.5,560.4 L192.5,562.3 L191.6,564.1 L190.5,565.8 L189.5,567.2 L188.4,568.7 L187.3,570.3 L186.1,571.8 L184.8,573.4 L183.5,574.9 L182.1,576.5 L180.7,578.0 L179.1,579.6 L177.5,581.3 L175.9,583.0 L174.2,584.8 L172.6,586.6 L171.1,588.5 L169.6,590.3 L168.1,592.0 L166.8,593.5 L165.6,594.9 L164.1,596.7 L162.9,598.1 L161.8,599.2 L160.7,600.4 L159.1,601.8 L157.2,603.4 L155.3,605.0 L154.0,606.0Z" fill="#cc6000"/>
<circle cx="159.0" cy="612.0" r="7.8" fill="#cc6000"/>
<circle cx="283.2" cy="358.5" r="7.8" fill="#cc6000"/>
<path d="M482,121 L492,119.5 L506,118 L511,112 L515,104 L519,102 L526.5,102 L526.5,128.5 L515,134 L505,138.5 L495,142.5 L487,147 L482,147.5Z" fill="#cc6000"/>
<path d="M164.1,593.2 L165.2,592.1 L166.7,590.5 L168.4,588.6 L170.3,586.5 L172.1,584.4 L173.4,582.7 L174.7,580.9 L176.0,579.1 L177.2,577.3 L178.4,575.5 L179.6,573.6 L180.9,571.3 L182.0,569.1 L183.0,567.1 L183.9,565.3 L184.8,563.5 L185.7,562.1 L186.7,560.6 L187.8,559.0 L189.0,557.3 L190.2,555.6 L191.3,553.9 L192.5,552.2 L193.7,550.5 L195.0,548.6 L196.5,546.3 L198.1,543.4 L199.0,541.9 L199.8,540.2 L200.7,538.5 L201.7,536.6 L202.6,534.7 L203.6,532.8 L204.6,530.8 L205.5,528.8 L206.5,526.8 L207.4,524.9 L208.3,523.0 L209.3,521.0 L210.2,518.9 L211.2,516.9 L212.1,514.9 L213.0,512.9 L213.9,510.8 L214.8,508.8 L215.7,506.8 L216.5,504.8 L217.4,502.8 L218.3,500.8 L219.2,498.8 L220.0,496.7 L220.9,494.7 L221.7,492.7 L222.6,490.7 L223.4,488.7 L224.3,486.7 L225.1,484.7 L225.9,482.7 L226.8,480.8 L227.6,478.8 L228.5,476.8 L229.4,474.8 L230.3,472.8 L231.2,470.8 L232.0,468.7 L232.9,466.6 L233.7,464.6 L234.6,462.5 L235.3,460.4 L236.1,458.3 L236.8,456.2 L237.4,454.2 L238.1,452.1 L238.7,450.1 L239.3,448.1 L240.0,446.1 L240.6,444.1 L241.2,442.1 L241.8,440.1 L242.4,438.1 L243.1,436.1 L243.7,434.1 L244.3,432.1 L245.0,430.0 L245.6,428.0 L246.2,425.9 L246.7,423.8 L247.3,421.7 L247.8,419.6 L248.3,417.5 L248.7,415.4 L249.1,413.3 L249.5,411.3 L249.8,409.3 L250.2,407.3 L250.6,405.3 L251.0,403.4 L251.4,401.4 L251.8,399.5 L252.2,397.4 L252.7,395.4 L253.1,393.3 L253.6,391.3 L254.0,389.3 L254.5,387.3 L254.9,385.3 L255.4,383.4 L255.8,381.7 L256.3,379.6 L256.9,377.5 L257.5,375.4 L258.1,373.3 L258.7,371.2 L259.3,369.0 L259.7,366.8 L260.0,364.3 L259.9,360.8 L259.4,357.5 L258.6,354.9 L258.0,353.2 L257.7,352.0 L244.3,356.0 L244.7,357.4 L245.2,359.0 L245.7,360.6 L246.0,362.1 L246.0,363.7 L245.9,364.6 L245.6,366.0 L245.2,367.6 L244.7,369.4 L244.1,371.5 L243.4,373.7 L242.8,376.0 L242.2,378.3 L241.8,380.2 L241.3,382.2 L240.8,384.1 L240.4,386.2 L239.9,388.2 L239.5,390.3 L239.0,392.4 L238.5,394.4 L238.1,396.5 L237.6,398.6 L237.2,400.6 L236.8,402.7 L236.4,404.7 L236.1,406.7 L235.7,408.7 L235.3,410.7 L235.0,412.6 L234.6,414.5 L234.2,416.4 L233.7,418.3 L233.2,420.2 L232.7,422.1 L232.1,424.0 L231.6,426.0 L231.0,427.9 L230.4,429.9 L229.7,431.9 L229.1,433.9 L228.5,435.9 L227.8,437.9 L227.2,439.9 L226.6,441.9 L226.0,443.9 L225.3,445.9 L224.7,447.9 L224.1,449.8 L223.5,451.8 L222.8,453.7 L222.1,455.6 L221.4,457.5 L220.7,459.4 L219.9,461.4 L219.1,463.3 L218.3,465.2 L217.5,467.2 L216.6,469.2 L215.7,471.2 L214.8,473.2 L213.9,475.2 L213.1,477.3 L212.2,479.3 L211.4,481.3 L210.5,483.3 L209.7,485.3 L208.8,487.3 L208.0,489.3 L207.1,491.3 L206.3,493.2 L205.4,495.2 L204.6,497.2 L203.7,499.2 L202.8,501.2 L202.0,503.2 L201.1,505.2 L200.2,507.1 L199.3,509.1 L198.4,511.1 L197.5,513.1 L196.6,515.0 L195.7,517.0 L194.8,518.8 L193.9,520.7 L193.0,522.7 L192.0,524.6 L191.1,526.6 L190.1,528.5 L189.2,530.3 L188.3,532.1 L187.4,533.7 L186.6,535.3 L185.9,536.6 L184.5,539.0 L183.3,540.9 L182.2,542.5 L181.0,544.2 L179.7,546.1 L178.6,547.7 L177.5,549.3 L176.3,551.0 L175.1,552.8 L173.9,554.6 L172.8,556.5 L171.5,558.7 L170.4,560.9 L169.5,562.9 L168.6,564.7 L167.6,566.4 L166.7,567.9 L165.6,569.5 L164.5,571.1 L163.4,572.7 L162.2,574.2 L161.1,575.6 L159.7,577.4 L158.0,579.2 L156.4,581.0 L154.9,582.6 L153.9,583.8Z" fill="#0a6018"/>
<circle cx="159.0" cy="588.5" r="7.0" fill="#0a6018"/>
<circle cx="251.0" cy="354.0" r="7.0" fill="#0a6018"/>
<path d="M165.3,560.6 L166.1,559.4 L167.2,557.7 L168.5,555.7 L169.8,553.7 L171.0,551.9 L171.8,550.7 L173.0,549.5 L175.0,547.5 L177.4,543.9 L178.5,541.9 L179.3,540.1 L180.2,538.1 L181.2,536.1 L182.1,533.9 L183.1,531.7 L184.1,529.4 L185.0,527.2 L185.9,525.1 L186.8,523.1 L187.7,521.1 L188.6,519.1 L189.5,517.1 L190.5,515.1 L191.4,513.1 L192.3,511.1 L193.2,509.1 L194.1,507.0 L195.0,505.0 L195.9,503.0 L196.7,501.0 L197.6,499.0 L198.5,497.0 L199.4,495.0 L200.2,492.9 L201.1,490.9 L202.0,488.9 L202.8,486.8 L203.6,484.7 L204.4,482.6 L205.2,480.6 L205.9,478.5 L206.6,476.4 L207.3,474.4 L208.0,472.3 L208.7,470.3 L209.3,468.2 L209.9,466.2 L210.6,464.2 L211.2,462.2 L211.8,460.1 L212.4,458.0 L212.9,456.0 L213.5,453.9 L214.0,451.9 L214.6,449.9 L215.1,447.9 L215.6,446.0 L216.2,444.0 L216.7,442.1 L217.3,440.1 L217.9,438.0 L218.5,435.9 L219.1,433.9 L219.7,431.8 L220.4,429.7 L221.0,427.7 L221.6,425.8 L222.1,424.0 L222.7,422.2 L223.4,419.9 L224.1,417.8 L224.8,415.7 L225.5,413.6 L226.2,411.7 L226.8,409.7 L227.3,407.7 L227.9,404.6 L228.2,401.8 L228.4,399.8 L228.5,398.6 L213.5,397.4 L213.4,398.8 L213.3,400.4 L213.1,402.2 L212.7,404.3 L212.4,405.5 L211.9,407.1 L211.3,408.9 L210.6,410.9 L209.9,413.0 L209.1,415.3 L208.3,417.8 L207.8,419.6 L207.2,421.4 L206.6,423.4 L206.0,425.4 L205.4,427.5 L204.8,429.6 L204.1,431.7 L203.5,433.8 L202.9,435.9 L202.3,437.9 L201.7,440.0 L201.1,442.0 L200.6,444.1 L200.1,446.1 L199.5,448.1 L199.0,450.1 L198.5,452.0 L197.9,454.0 L197.4,455.9 L196.8,457.8 L196.2,459.8 L195.6,461.8 L195.0,463.8 L194.4,465.7 L193.8,467.7 L193.1,469.6 L192.5,471.6 L191.8,473.5 L191.1,475.4 L190.4,477.4 L189.6,479.3 L188.9,481.2 L188.1,483.1 L187.3,485.1 L186.5,487.1 L185.6,489.0 L184.7,491.0 L183.9,493.0 L183.0,495.0 L182.1,497.0 L181.3,499.0 L180.4,501.0 L179.5,502.9 L178.6,504.9 L177.7,506.9 L176.8,508.9 L175.9,510.9 L175.0,512.9 L174.1,514.9 L173.2,516.9 L172.2,519.0 L171.3,521.2 L170.3,523.5 L169.3,525.7 L168.4,527.9 L167.5,530.0 L166.6,531.9 L165.8,533.7 L165.0,535.2 L164.6,536.1 L163.2,538.2 L162.3,538.9 L160.2,541.3 L158.7,543.4 L157.3,545.4 L155.9,547.5 L154.6,549.5 L153.5,551.2 L152.7,552.4Z" fill="#b89a00"/>
<circle cx="159.0" cy="556.5" r="7.5" fill="#b89a00"/>
<circle cx="221.0" cy="398.0" r="7.5" fill="#b89a00"/>
<path d="M378.2,231.6 L379.6,230.6 L381.7,229.2 L384.1,227.6 L386.3,226.0 L388.0,224.8 L389.6,223.7 L391.5,222.3 L393.4,220.9 L395.4,219.1 L397.4,217.2 L399.1,215.3 L400.6,213.6 L401.7,212.4 L402.5,211.6 L404.0,210.3 L405.2,209.3 L406.3,208.6 L407.7,208.0 L409.7,207.2 L412.4,206.1 L415.0,204.9 L417.6,203.7 L419.6,202.7 L422.5,201.4 L426.2,199.1 L428.2,197.5 L430.0,196.1 L431.8,194.5 L433.7,192.9 L435.6,191.3 L437.4,189.6 L439.2,188.0 L441.0,186.3 L442.7,184.6 L444.3,183.0 L445.9,181.6 L447.4,180.2 L448.9,178.8 L450.5,177.4 L452.1,176.1 L453.7,174.7 L455.3,173.3 L457.0,172.0 L458.5,170.7 L460.1,169.5 L461.8,168.2 L463.5,166.8 L465.3,165.4 L467.1,163.9 L469.0,162.2 L471.1,160.4 L473.0,158.6 L474.8,157.0 L476.3,155.6 L477.4,154.6 L462.6,138.4 L461.5,139.4 L460.0,140.8 L458.2,142.4 L456.4,144.1 L454.5,145.7 L452.9,147.1 L451.4,148.4 L449.8,149.6 L448.2,150.9 L446.5,152.2 L444.8,153.6 L443.0,155.0 L441.3,156.4 L439.6,157.8 L437.9,159.3 L436.2,160.7 L434.4,162.3 L432.6,163.8 L430.8,165.5 L429.0,167.2 L427.3,168.9 L425.7,170.5 L424.1,171.9 L422.6,173.4 L421.0,174.8 L419.2,176.3 L417.5,177.8 L415.9,179.2 L414.5,180.3 L413.8,180.9 L412.1,182.0 L410.4,182.7 L408.1,183.8 L405.8,184.9 L403.6,185.9 L401.5,186.8 L398.8,187.8 L395.7,189.4 L392.7,191.2 L390.1,193.2 L387.5,195.4 L385.7,197.3 L384.1,199.1 L382.7,200.7 L381.6,201.9 L380.6,202.9 L379.5,203.8 L378.3,204.7 L376.9,205.8 L375.3,206.9 L373.7,208.0 L371.5,209.5 L369.3,211.0 L367.3,212.4 L365.8,213.4Z" fill="#b89a00"/>
<circle cx="372.0" cy="222.5" r="11.0" fill="#b89a00"/>
<circle cx="470.0" cy="146.5" r="11.0" fill="#b89a00"/>
<path d="M400.5,213.7 L401.7,212.4 L402.5,211.6 L404.0,210.3 L405.2,209.3 L406.3,208.6 L407.7,208.0 L409.7,207.2 L412.4,206.1 L415.0,204.9 L417.6,203.7 L419.6,202.7 L422.5,201.4 L426.2,199.1 L428.2,197.5 L430.0,196.1 L431.8,194.5 L433.7,192.9 L419.3,176.3 L417.5,177.8 L415.9,179.2 L414.5,180.3 L413.8,180.9 L412.1,182.0 L410.4,182.7 L408.1,183.8 L405.8,184.9 L403.6,185.9 L401.5,186.8 L398.8,187.8 L395.7,189.4 L392.7,191.2 L390.1,193.2 L387.5,195.4 L385.7,197.3 L384.1,199.0Z" fill="#00a8e6"/>
<path d="M431.9,194.5 L433.7,192.9 L435.6,191.3 L437.4,189.6 L439.2,188.0 L441.0,186.3 L442.7,184.6 L444.3,183.0 L445.9,181.6 L447.4,180.2 L448.9,178.8 L450.5,177.4 L452.1,176.1 L453.7,174.7 L455.3,173.3 L457.0,172.0 L458.6,170.7 L444.7,153.6 L443.0,155.0 L441.3,156.4 L439.6,157.8 L437.9,159.3 L436.2,160.7 L434.4,162.3 L432.6,163.8 L430.8,165.5 L429.0,167.2 L427.3,168.9 L425.7,170.5 L424.1,171.9 L422.6,173.4 L421.0,174.8 L419.2,176.3 L417.5,177.9Z" fill="#0000cd"/>
<path d="M455.3,173.4 L457.0,172.0 L458.5,170.7 L460.1,169.5 L461.8,168.2 L463.5,166.8 L465.3,165.4 L467.1,163.9 L469.0,162.2 L471.1,160.4 L473.0,158.6 L474.8,157.0 L460.0,140.8 L458.2,142.4 L456.4,144.1 L454.5,145.7 L452.9,147.1 L451.4,148.4 L449.8,149.6 L448.2,150.9 L446.5,152.2 L444.8,153.6 L443.0,155.0 L441.3,156.4Z" fill="#0a6018"/>
<path d="M377.6,235.8 L379.1,234.8 L381.1,233.4 L383.5,231.8 L385.8,230.2 L387.4,229.0 L389.1,227.8 L390.7,226.6 L379.0,210.4 L377.4,211.6 L375.9,212.7 L374.2,213.8 L372.1,215.3 L369.9,216.9 L367.8,218.2 L366.4,219.2Z" fill="#b89a00"/>
<path d="M389.1,227.8 L390.9,226.5 L392.8,225.1 L394.7,223.4 L396.7,221.5 L398.4,219.6 L399.8,218.0 L401.0,216.7 L402.1,215.5 L387.9,201.5 L386.4,203.0 L384.8,204.7 L383.4,206.3 L382.3,207.6 L381.3,208.6 L380.2,209.5 L378.9,210.5 L377.4,211.6Z" fill="#0a6018"/>
<path d="M400.8,216.9 L401.8,215.8 L403.3,214.5 L404.6,213.5 L405.8,212.7 L407.3,212.1 L409.3,211.2 L412.0,210.2 L414.6,209.0 L417.1,207.8 L419.2,206.8 L422.1,205.5 L425.6,203.3 L427.6,201.7 L429.4,200.3 L431.2,198.8 L433.1,197.2 L434.9,195.5 L436.7,193.9 L438.5,192.3 L440.3,190.6 L442.0,188.9 L443.6,187.3 L445.2,185.8 L446.7,184.4 L448.3,183.0 L449.8,181.7 L451.5,180.3 L453.1,178.9 L454.7,177.6 L456.3,176.2 L458.0,174.9 L445.4,159.4 L443.7,160.8 L442.0,162.2 L440.3,163.6 L438.5,165.0 L436.8,166.5 L435.1,168.0 L433.3,169.6 L431.5,171.2 L429.7,172.9 L428.0,174.6 L426.4,176.2 L424.8,177.7 L423.3,179.1 L421.6,180.6 L419.9,182.1 L418.2,183.6 L416.6,184.9 L415.1,186.1 L414.4,186.7 L412.6,187.9 L410.8,188.6 L408.5,189.7 L406.2,190.8 L404.0,191.8 L401.9,192.7 L399.2,193.7 L396.2,195.3 L393.3,197.0 L390.7,199.0 L388.2,201.2 L386.6,202.8Z" fill="#0000cd"/>
<path d="M454.7,177.6 L456.3,176.2 L457.9,175.0 L459.5,173.7 L461.2,172.4 L462.9,171.1 L464.7,169.6 L466.5,168.1 L468.3,166.6 L470.1,165.0 L471.9,163.3 L473.7,161.7 L475.4,160.2 L476.9,158.7 L463.1,144.3 L461.7,145.6 L460.2,147.0 L458.6,148.5 L456.9,150.0 L455.2,151.5 L453.5,152.9 L452.0,154.1 L450.4,155.4 L448.8,156.7 L447.2,158.0 L445.4,159.3 L443.7,160.8 L442.0,162.2Z" fill="#cc6000"/>
<path d="M473.8,161.7 L475.4,160.2 L477.2,158.4 L479.4,155.9 L480.9,154.0 L481.2,153.5 L480.8,153.8 L480.7,153.9 L482.3,153.5 L478.1,134.0 L475.1,134.7 L471.2,136.2 L467.5,139.0 L465.1,141.6 L463.9,143.3 L462.8,144.6 L461.7,145.6 L460.2,147.0Z" fill="#b89a00"/>
<path d="M475.7,136.9 L476.7,135.3 L478.2,132.9 L479.6,130.5 L480.7,128.9 L471.3,123.1 L470.3,124.7 L468.8,127.1 L467.4,129.5 L466.3,131.1Z" fill="#b89a00"/>
<circle cx="471.0" cy="134.0" r="5.5" fill="#b89a00"/>
<circle cx="476.0" cy="126.0" r="5.5" fill="#b89a00"/>
<path d="M163.5,521.3 L164.1,520.2 L165.0,518.7 L166.1,516.9 L167.3,514.8 L168.6,512.6 L169.7,510.3 L170.6,508.4 L171.5,506.4 L172.4,504.4 L173.2,502.4 L174.0,500.5 L174.7,498.6 L175.4,496.9 L176.4,494.5 L177.4,492.1 L178.3,489.9 L179.1,487.8 L179.9,485.9 L180.9,483.6 L181.9,481.3 L182.8,479.4 L183.4,478.0 L169.6,472.0 L169.0,473.3 L168.2,475.3 L167.1,477.6 L166.1,480.1 L165.2,482.1 L164.4,484.3 L163.5,486.5 L162.5,488.8 L161.6,491.1 L160.8,492.9 L160.1,494.8 L159.3,496.7 L158.5,498.6 L157.8,500.4 L157.0,502.1 L156.3,503.7 L155.4,505.5 L154.3,507.4 L153.2,509.3 L152.1,511.0 L151.2,512.5 L150.5,513.7Z" fill="#ff8c1a"/>
<circle cx="157.0" cy="517.5" r="7.5" fill="#ff8c1a"/>
<circle cx="176.5" cy="475.0" r="7.5" fill="#ff8c1a"/>
<path d="M367.0,238.0 L368.4,237.5 L370.6,236.8 L373.4,235.8 L376.4,234.4 L379.1,232.8 L381.5,231.2 L383.6,229.6 L385.6,228.2 L387.1,227.1 L388.8,225.9 L390.6,224.6 L392.4,223.2 L394.4,221.5 L396.3,219.6 L398.0,217.8 L399.4,216.1 L400.6,214.8 L401.5,214.0 L403.0,212.6 L404.3,211.6 L405.6,210.8 L407.1,210.1 L409.2,209.3 L411.8,208.2 L414.4,207.0 L416.9,205.8 L419.0,204.8 L421.8,203.5 L425.3,201.4 L427.3,199.9 L429.0,198.4 L430.9,196.9 L432.7,195.3 L434.6,193.6 L436.4,192.0 L438.2,190.4 L439.9,188.7 L441.6,187.1 L443.3,185.5 L444.8,184.0 L446.4,182.5 L447.9,181.2 L449.5,179.8 L451.1,178.4 L452.8,177.1 L454.4,175.7 L456.0,174.4 L457.6,173.1 L459.2,171.8 L460.9,170.5 L462.6,169.2 L464.3,167.7 L466.1,166.3 L467.9,164.7 L469.8,163.1 L471.6,161.5 L473.4,159.9 L475.1,158.3 L476.7,156.8 L478.8,154.6 L480.7,152.5 L482.1,150.9 L483.1,149.8 L468.9,137.2 L467.9,138.3 L466.6,139.8 L465.0,141.5 L463.3,143.2 L462.1,144.4 L460.5,145.8 L458.9,147.3 L457.2,148.9 L455.5,150.4 L453.9,151.7 L452.3,153.0 L450.8,154.3 L449.1,155.6 L447.5,156.9 L445.7,158.2 L444.0,159.6 L442.3,161.1 L440.6,162.5 L438.9,163.9 L437.1,165.4 L435.4,166.9 L433.6,168.5 L431.8,170.1 L430.1,171.8 L428.4,173.4 L426.7,175.0 L425.2,176.5 L423.6,178.0 L422.0,179.4 L420.2,181.0 L418.5,182.5 L416.9,183.8 L415.4,185.0 L414.7,185.6 L412.8,186.8 L411.0,187.6 L408.7,188.7 L406.4,189.8 L404.2,190.8 L402.1,191.6 L399.4,192.7 L396.4,194.2 L393.6,195.9 L391.0,197.9 L388.5,200.0 L386.8,201.8 L385.2,203.6 L383.8,205.1 L382.6,206.5 L381.6,207.5 L380.5,208.4 L379.2,209.4 L377.7,210.5 L376.1,211.6 L374.4,212.8 L372.4,214.3 L370.5,215.7 L368.9,216.8 L367.6,217.6 L366.2,218.2 L364.4,218.9 L362.5,219.5 L361.0,220.0Z" fill="#ff8c1a"/>
<circle cx="364.0" cy="229.0" r="9.5" fill="#ff8c1a"/>
<circle cx="476.0" cy="143.5" r="9.5" fill="#ff8c1a"/>
<circle cx="287" cy="338" r="6.5" fill="#cc6000"/>
<circle cx="335" cy="280.5" r="6.5" fill="#ff8c1a"/>
<path d="M303.8,314.5 L305.5,312.7 L307.3,311.0 L308.9,309.2 L310.5,307.4 L312.1,305.6 L313.6,303.9 L315.1,302.1 L316.6,300.3 L318.0,298.5 L319.4,296.7 L320.7,294.8 L322.3,292.6 L323.8,290.4 L325.1,288.3 L326.3,286.3 L327.6,284.3 L328.9,282.3 L330.1,280.3 L331.3,278.4 L332.5,276.6 L333.7,274.8 L334.8,273.5 L335.9,272.0 L337.2,270.4 L338.6,268.7 L340.0,267.0 L341.5,265.1 L342.9,263.3 L344.2,261.5 L345.4,259.8 L346.5,258.3 L347.6,256.9 L348.7,255.5 L350.0,254.0 L351.4,252.5 L352.9,250.9 L354.4,249.3 L356.0,247.8 L357.4,246.3 L358.9,245.0 L360.3,243.7 L361.8,242.4 L363.2,241.1 L364.6,239.9 L365.9,238.8 L368.3,236.8 L370.3,235.1 L371.8,233.9 L357.8,216.9 L356.4,218.1 L354.2,219.9 L351.7,222.0 L350.3,223.2 L348.9,224.4 L347.3,225.8 L345.6,227.3 L343.9,228.9 L342.2,230.5 L340.5,232.2 L338.8,233.9 L337.0,235.7 L335.3,237.5 L333.6,239.4 L331.9,241.3 L330.3,243.3 L328.8,245.2 L327.5,247.0 L326.3,248.6 L325.2,250.2 L324.1,251.7 L322.9,253.2 L321.6,254.7 L320.2,256.4 L318.8,258.2 L317.3,260.0 L315.9,262.0 L314.3,264.2 L312.8,266.4 L311.5,268.5 L310.3,270.5 L309.0,272.5 L307.7,274.5 L306.5,276.5 L305.3,278.4 L304.1,280.2 L302.9,282.0 L301.8,283.5 L300.6,285.0 L299.4,286.5 L298.1,288.1 L296.9,289.6 L295.5,291.2 L294.1,292.7 L292.7,294.3 L291.3,295.8 L289.8,297.4 L288.2,299.0Z" fill="#b89a00"/>
<circle cx="296.0" cy="306.7" r="11.0" fill="#b89a00"/>
<circle cx="364.8" cy="225.4" r="11.0" fill="#b89a00"/>
<path d="M242.6,376.8 L243.8,375.1 L245.0,373.4 L246.1,371.8 L247.1,370.5 L248.1,369.2 L249.1,368.0 L250.1,367.0 L251.3,365.9 L252.8,364.6 L254.4,363.2 L256.1,361.7 L258.0,360.1 L259.8,358.3 L261.7,356.3 L263.4,354.4 L264.9,352.6 L266.2,351.1 L267.5,349.7 L268.8,348.4 L270.0,347.2 L271.4,345.9 L272.9,344.6 L274.5,343.3 L276.2,341.9 L277.9,340.4 L279.6,339.0 L281.2,337.6 L282.9,336.2 L284.6,334.8 L286.3,333.3 L288.1,331.9 L289.9,330.4 L291.6,329.0 L293.3,327.5 L295.0,326.1 L296.7,324.7 L298.4,323.2 L300.2,321.7 L301.9,320.1 L303.6,318.5 L305.5,316.7 L307.3,314.9 L309.0,313.1 L310.7,311.3 L312.3,309.5 L313.9,307.7 L315.4,305.9 L316.9,304.1 L318.4,302.3 L319.8,300.5 L321.2,298.7 L322.6,296.8 L324.1,294.6 L325.6,292.4 L326.9,290.3 L328.2,288.3 L329.4,286.3 L330.7,284.3 L332.0,282.3 L333.2,280.4 L334.3,278.6 L335.5,276.9 L336.6,275.5 L337.7,274.0 L339.0,272.5 L340.4,270.8 L341.8,269.0 L343.3,267.2 L344.7,265.3 L346.0,263.5 L347.2,261.9 L348.3,260.4 L349.4,258.9 L350.5,257.6 L351.7,256.1 L353.2,254.6 L354.6,253.0 L356.2,251.4 L357.7,249.9 L359.2,248.5 L360.6,247.1 L362.0,245.8 L363.5,244.5 L364.9,243.3 L366.3,242.0 L367.6,240.9 L370.0,238.9 L372.0,237.3 L373.5,236.1 L358.5,217.9 L357.1,219.1 L354.9,220.9 L352.4,223.1 L351.0,224.2 L349.6,225.5 L348.0,226.8 L346.3,228.3 L344.6,229.9 L342.8,231.5 L341.1,233.2 L339.4,234.9 L337.7,236.8 L335.9,238.6 L334.2,240.5 L332.5,242.4 L330.9,244.4 L329.4,246.3 L328.1,248.1 L326.9,249.8 L325.8,251.4 L324.7,252.8 L323.5,254.3 L322.2,255.9 L320.9,257.5 L319.4,259.3 L318.0,261.2 L316.5,263.1 L314.9,265.4 L313.4,267.6 L312.1,269.7 L310.8,271.7 L309.6,273.7 L308.3,275.7 L307.0,277.7 L305.8,279.6 L304.7,281.4 L303.4,283.2 L302.4,284.6 L301.2,286.1 L300.0,287.7 L298.8,289.2 L297.5,290.7 L296.1,292.3 L294.8,293.8 L293.4,295.4 L291.9,296.9 L290.5,298.5 L289.0,300.0 L287.4,301.5 L286.0,302.8 L284.6,304.1 L283.1,305.4 L281.5,306.8 L279.8,308.2 L278.1,309.6 L276.4,311.0 L274.8,312.4 L273.1,313.8 L271.4,315.2 L269.7,316.7 L267.9,318.1 L266.1,319.6 L264.4,321.0 L262.7,322.4 L261.1,323.9 L259.3,325.3 L257.6,326.8 L255.8,328.4 L254.0,329.9 L252.2,331.6 L250.3,333.6 L248.5,335.6 L247.0,337.4 L245.7,339.0 L244.4,340.4 L243.2,341.7 L242.0,342.8 L240.7,344.0 L239.1,345.4 L237.4,346.8 L235.6,348.4 L233.7,350.1 L231.9,352.0 L230.0,354.1 L228.4,356.2 L226.9,358.2 L225.7,360.0 L224.6,361.6 L223.4,363.2Z" fill="#ff8c1a"/>
<circle cx="233.0" cy="370.0" r="11.8" fill="#ff8c1a"/>
<circle cx="366.0" cy="227.0" r="11.8" fill="#ff8c1a"/>
<path d="M166.6,484.9 L167.7,483.6 L169.5,481.6 L171.5,479.3 L173.5,476.8 L175.0,474.7 L176.3,472.8 L177.5,470.9 L178.7,469.1 L179.9,467.3 L180.9,465.8 L182.1,464.1 L183.2,462.5 L184.4,460.8 L185.5,459.2 L186.7,457.6 L187.8,456.0 L189.1,454.4 L190.3,452.7 L191.6,451.0 L192.9,449.3 L194.2,447.5 L195.6,445.5 L197.0,443.6 L198.3,441.6 L199.6,439.7 L200.9,437.8 L202.2,435.8 L203.5,433.9 L204.9,431.8 L206.2,429.7 L207.6,427.4 L208.8,425.4 L209.9,423.4 L211.1,421.4 L212.1,419.5 L213.2,417.6 L214.2,415.8 L215.3,414.0 L216.4,412.2 L217.5,410.4 L218.6,408.6 L219.7,406.8 L220.8,405.0 L222.1,402.9 L223.3,400.9 L224.5,399.0 L225.7,397.1 L226.9,395.3 L228.0,393.7 L229.1,392.1 L230.2,390.5 L231.4,388.8 L232.6,387.2 L233.8,385.5 L235.0,383.8 L236.1,382.1 L237.3,380.4 L238.4,378.8 L239.5,377.2 L240.7,375.5 L242.0,373.8 L243.1,372.1 L244.2,370.5 L245.3,369.1 L246.3,367.7 L247.5,366.5 L248.5,365.4 L249.8,364.2 L251.3,362.9 L252.9,361.5 L254.7,360.0 L256.4,358.4 L258.2,356.7 L260.1,354.8 L261.7,352.9 L263.2,351.2 L264.5,349.6 L265.8,348.1 L267.2,346.8 L268.5,345.5 L269.9,344.2 L271.4,342.9 L273.0,341.5 L274.7,340.1 L276.4,338.7 L278.1,337.3 L279.8,335.9 L281.5,334.5 L283.2,333.0 L284.9,331.6 L286.7,330.2 L288.4,328.7 L290.1,327.3 L291.8,325.8 L293.5,324.4 L295.2,322.9 L296.9,321.5 L298.7,320.0 L300.4,318.4 L302.1,316.9 L303.9,315.1 L305.7,313.3 L307.4,311.5 L309.0,309.8 L310.6,308.0 L312.2,306.2 L313.7,304.5 L315.2,302.7 L316.6,300.9 L318.0,299.2 L319.4,297.4 L320.7,295.5 L322.3,293.3 L323.7,291.1 L325.0,289.1 L326.3,287.1 L327.5,285.1 L328.8,283.1 L330.1,281.1 L331.3,279.1 L332.5,277.3 L333.7,275.6 L334.8,274.1 L336.0,272.6 L337.3,271.0 L338.7,269.4 L340.1,267.6 L341.5,265.8 L342.9,264.0 L344.2,262.2 L345.4,260.6 L346.5,259.0 L347.6,257.6 L348.8,256.1 L350.1,254.6 L351.5,253.0 L353.0,251.4 L354.6,249.8 L356.1,248.3 L357.6,246.8 L359.0,245.5 L360.5,244.1 L362.0,242.8 L363.4,241.6 L364.9,240.3 L366.2,239.2 L368.5,237.2 L370.6,235.5 L372.0,234.3 L360.0,219.7 L358.5,220.8 L356.3,222.6 L353.8,224.8 L352.5,225.9 L351.0,227.2 L349.5,228.5 L347.8,230.0 L346.1,231.6 L344.4,233.2 L342.7,234.8 L341.0,236.5 L339.3,238.3 L337.6,240.1 L335.9,242.0 L334.2,243.9 L332.7,245.8 L331.3,247.7 L330.0,249.4 L328.8,251.1 L327.6,252.7 L326.5,254.2 L325.3,255.7 L324.0,257.3 L322.6,259.0 L321.2,260.7 L319.7,262.5 L318.3,264.4 L316.7,266.7 L315.3,268.9 L314.0,270.9 L312.7,272.9 L311.5,274.9 L310.2,276.9 L308.9,278.9 L307.7,280.9 L306.5,282.7 L305.3,284.5 L304.2,286.0 L303.0,287.5 L301.8,289.1 L300.5,290.6 L299.2,292.2 L297.8,293.8 L296.4,295.3 L295.0,296.9 L293.6,298.5 L292.1,300.0 L290.5,301.6 L288.9,303.1 L287.6,304.4 L286.1,305.7 L284.5,307.1 L282.9,308.5 L281.2,309.9 L279.6,311.3 L277.9,312.7 L276.2,314.1 L274.5,315.5 L272.8,317.0 L271.1,318.4 L269.3,319.8 L267.6,321.3 L265.9,322.7 L264.2,324.2 L262.5,325.6 L260.8,327.0 L259.0,328.5 L257.3,330.0 L255.6,331.6 L253.8,333.2 L251.9,335.2 L250.2,337.1 L248.7,338.8 L247.4,340.5 L246.1,341.9 L244.8,343.3 L243.6,344.4 L242.1,345.7 L240.6,347.1 L238.9,348.5 L237.1,350.1 L235.3,351.8 L233.5,353.5 L231.7,355.6 L230.2,357.6 L228.8,359.5 L227.5,361.2 L226.4,362.9 L225.3,364.5 L224.1,366.2 L222.8,367.9 L221.7,369.6 L220.5,371.3 L219.4,372.9 L218.2,374.5 L217.1,376.2 L215.9,377.8 L214.7,379.5 L213.5,381.2 L212.3,383.0 L211.1,384.7 L209.7,386.8 L208.4,388.9 L207.1,390.9 L205.9,392.9 L204.6,395.0 L203.5,396.8 L202.4,398.6 L201.3,400.4 L200.1,402.3 L199.0,404.3 L197.8,406.2 L196.6,408.2 L195.5,410.2 L194.4,412.2 L193.4,414.1 L192.4,415.9 L191.4,417.6 L190.2,419.5 L188.9,421.5 L187.7,423.4 L186.4,425.3 L185.1,427.2 L183.8,429.1 L182.6,431.0 L181.3,432.8 L180.1,434.6 L178.8,436.5 L177.7,438.0 L176.5,439.6 L175.2,441.2 L173.9,442.9 L172.6,444.6 L171.3,446.4 L170.1,448.2 L168.8,449.9 L167.6,451.6 L166.4,453.3 L165.3,455.0 L164.1,456.7 L162.8,458.7 L161.6,460.6 L160.4,462.4 L159.4,463.9 L158.5,465.2 L157.0,467.0 L155.3,469.0 L153.6,470.8 L152.4,472.1Z" fill="#ff0000"/>
<circle cx="159.5" cy="478.5" r="9.5" fill="#ff0000"/>
<circle cx="366.0" cy="227.0" r="9.5" fill="#ff0000"/>
<line x1="363.7" y1="536.3" x2="214" y2="332" stroke="#111" stroke-width="1.3"/>
<path d="M209.8,325.6 L223.5,335.3 L216.6,336.5 L213.6,343.3 Z" fill="#111"/>
<path d="M227.2,659.7 V650.2 M227.2,21.8 V31.8 M319.2,659.7 V650.2 M319.2,21.8 V31.8 M411.2,659.7 V650.2 M411.2,21.8 V31.8 M503.2,659.7 V650.2 M503.2,21.8 V31.8 M595.2,659.7 V650.2 M595.2,21.8 V31.8 M687.2,659.7 V650.2 M687.2,21.8 V31.8 M137.2,447.7 H146.7 M777.3,447.7 H767.8 M137.2,233.8 H146.7 M777.3,233.8 H767.8" stroke="#4a4a4a" stroke-width="2" fill="none"/>
<rect x="135.2" y="19.8" width="644.1" height="641.9" fill="none" stroke="#000" stroke-width="4.2"/>
<g font-size="37" fill="#000">
<text x="120" y="668.3" text-anchor="end">0</text><text x="120" y="454.3" text-anchor="end">50</text><text x="120" y="240.4" text-anchor="end">100</text><text x="120" y="26.4" text-anchor="end">150</text>
<text x="135.2" y="703" text-anchor="middle">2</text><text x="227.2" y="703" text-anchor="middle">4</text><text x="319.2" y="703" text-anchor="middle">6</text><text x="411.2" y="703" text-anchor="middle">8</text><text x="503.2" y="703" text-anchor="middle">10</text><text x="595.2" y="703" text-anchor="middle">12</text><text x="687.2" y="703" text-anchor="middle">14</text><text x="779.2" y="703" text-anchor="middle">16</text>
</g>
<text x="458" y="767" font-size="43" text-anchor="middle"><tspan font-style="italic">T</tspan> (K)</text>
<text transform="translate(33.5,342.5) rotate(-90)" font-size="42" text-anchor="middle"><tspan font-style="italic" fill="none">&#954;</tspan> (W/mK)</text>
<path d="M13.3,418.6 L16.6,420.1 L33.2,423.9 Q34.6,425.3 33.4,427.1 L16.4,424.2 L15.6,425.8 L13.4,424.6Z" fill="#000"/>
<path d="M15.4,405.6 Q16.6,411.5 22,418.8" stroke="#000" stroke-width="1.4" fill="none"/>
<circle cx="15.6" cy="405.4" r="1.9" fill="#000"/>
<path d="M21.3,418.7 L29,413.3 L32,410.2 L33.4,408.3 L34.3,409.4 L34.2,417.4 L32.8,417.9 L28.6,417.2 L22.6,420.9Z" fill="#000"/>
<text x="144" y="310" font-size="32.5" fill="#ff0000">4.0 kOe</text>
<text x="366" y="576.5" font-size="32.5" fill="#7a16dc"><tspan font-style="italic">H</tspan> = 0 kOe</text>
<text x="579" y="313" font-size="35">Nb sheet</text>
<rect x="551.5" y="334.5" width="205" height="307" fill="none" stroke="#333" stroke-width="1.5"/>
<g font-size="32.5">
<rect x="589.2" y="356.7" width="12.2" height="12.2" rx="3.6" fill="#9614dc"/><text x="632" y="374.0" fill="#9614dc">0 kOe</text><rect x="589.2" y="392.4" width="12.2" height="12.2" rx="3.6" fill="#0000cd"/><text x="631" y="409.7" fill="#0000cd">1.0 kOe</text><rect x="589.2" y="428.1" width="12.2" height="12.2" rx="3.6" fill="#00a8e6"/><text x="631" y="445.4" fill="#00a8e6">1.5 kOe</text><rect x="589.2" y="463.8" width="12.2" height="12.2" rx="3.6" fill="#cc6000"/><text x="631" y="481.1" fill="#cc6000">2.0 kOe</text><rect x="589.2" y="499.5" width="12.2" height="12.2" rx="3.6" fill="#0a6018"/><text x="631" y="516.8" fill="#0a6018">2.5 kOe</text><rect x="589.2" y="535.2" width="12.2" height="12.2" rx="3.6" fill="#b89a00"/><text x="631" y="552.5" fill="#b89a00">3.0 kOe</text><rect x="589.2" y="570.9" width="12.2" height="12.2" rx="3.6" fill="#ff8c1a"/><text x="631" y="588.2" fill="#ff8c1a">3.5 kOe</text><rect x="589.2" y="606.6" width="12.2" height="12.2" rx="3.6" fill="#ff0000"/><text x="631" y="623.9" fill="#ff0000">4.0 kOe</text>
</g>
</svg>
</body></html>
